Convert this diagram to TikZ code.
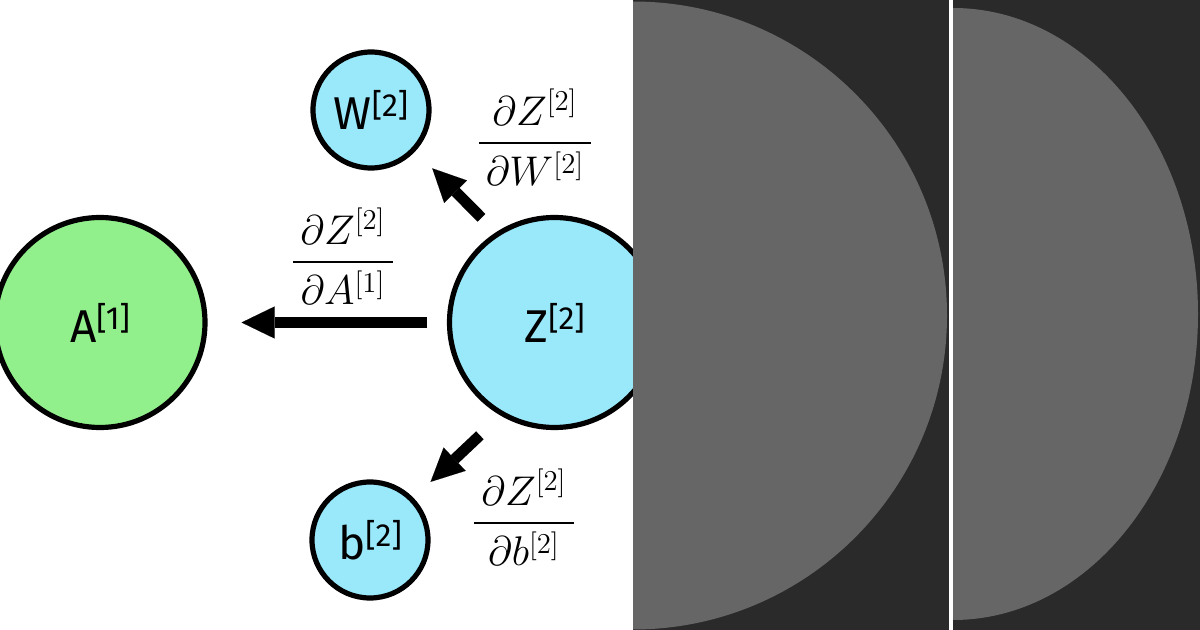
\documentclass[tikz,border=0pt]{standalone}
\usepackage{fontspec}
\usepackage{amsmath}
\usetikzlibrary{arrows.meta}
\newfontfamily\lblfont{Fira Sans}
\definecolor{nodegreen}{HTML}{92F08C}
\definecolor{nodeblue}{HTML}{99E9FA}
\definecolor{paneldark}{HTML}{2A2A2A}
\definecolor{panellight}{HTML}{666666}
\newcommand\lsup[1]{\raisebox{6.5pt}{\fontsize{16}{16}\selectfont[#1]}}
\newcommand\dfr[2]{\genfrac{}{}{1.3pt}{0}{\mkern3mu#1\mkern3mu}{\mkern3mu#2\mkern3mu}}
\begin{document}
\begin{tikzpicture}[x=0.5pt,y=-0.5pt,
  bignode/.style={circle, draw=black, line width=2.6pt, inner sep=0pt, minimum size=105pt, font=\lblfont\fontsize{23}{23}\selectfont},
  smallnode/.style={circle, draw=black, line width=2.6pt, fill=nodeblue, inner sep=0pt, minimum size=58pt, font=\lblfont\fontsize{23}{23}\selectfont},
  fraclbl/.style={font=\fontsize{20}{24}\selectfont, inner sep=0pt},
  arr/.style={line width=5.5pt, -{Triangle[length=16.5pt,width=16pt,line width=0.01pt]}}]
\useasboundingbox (0,0) rectangle (1200,630);
\clip (0,0) rectangle (1200,630);
\fill[white] (0,0) rectangle (1200,630);
\node[bignode, fill=nodegreen] (A) at (100,322.5) {A\lsup{1}};
\node[bignode, fill=nodeblue] (Z) at (554.5,322.5) {Z\lsup{2}};
\node[smallnode] (W) at (371,110) {W\lsup{2}};
\node[smallnode] (b) at (370,540) {b\lsup{2}};
\draw[arr, shorten <=9.75pt, shorten >=17pt] (Z.180) -- (A.0);
\draw[arr, shorten <=10.2pt, shorten >=12pt] (Z.123.7) -- (W.-43.5);
\draw[arr, shorten <=14.3pt, shorten >=11.7pt] (Z.240.3) -- (b.44.3);
\node[fraclbl] (fA) at (343,256) {$\dfr{\partial Z^{[2]}}{\partial A^{[1]}}$};
\node[fraclbl] (fW) at (535,137) {$\dfr{\partial Z^{[2]}}{\partial W^{[2]}}$};
\node[fraclbl] (fb) at (524,517) {$\dfr{\partial Z^{[2]}}{\partial b^{[2]}}$};
\begin{scope}
\clip (633,0) rectangle (949,630);
\fill[paneldark] (633,0) rectangle (949,630);
\fill[panellight] (633,315.5) ellipse[x radius=157pt, y radius=157pt];
\end{scope}
\begin{scope}
\clip (953,0) rectangle (1200,630);
\fill[paneldark] (953,0) rectangle (1200,630);
\fill[panellight] (953,314) ellipse[x radius=122.5pt, y radius=153pt];
\end{scope}
\end{tikzpicture}
\end{document}
